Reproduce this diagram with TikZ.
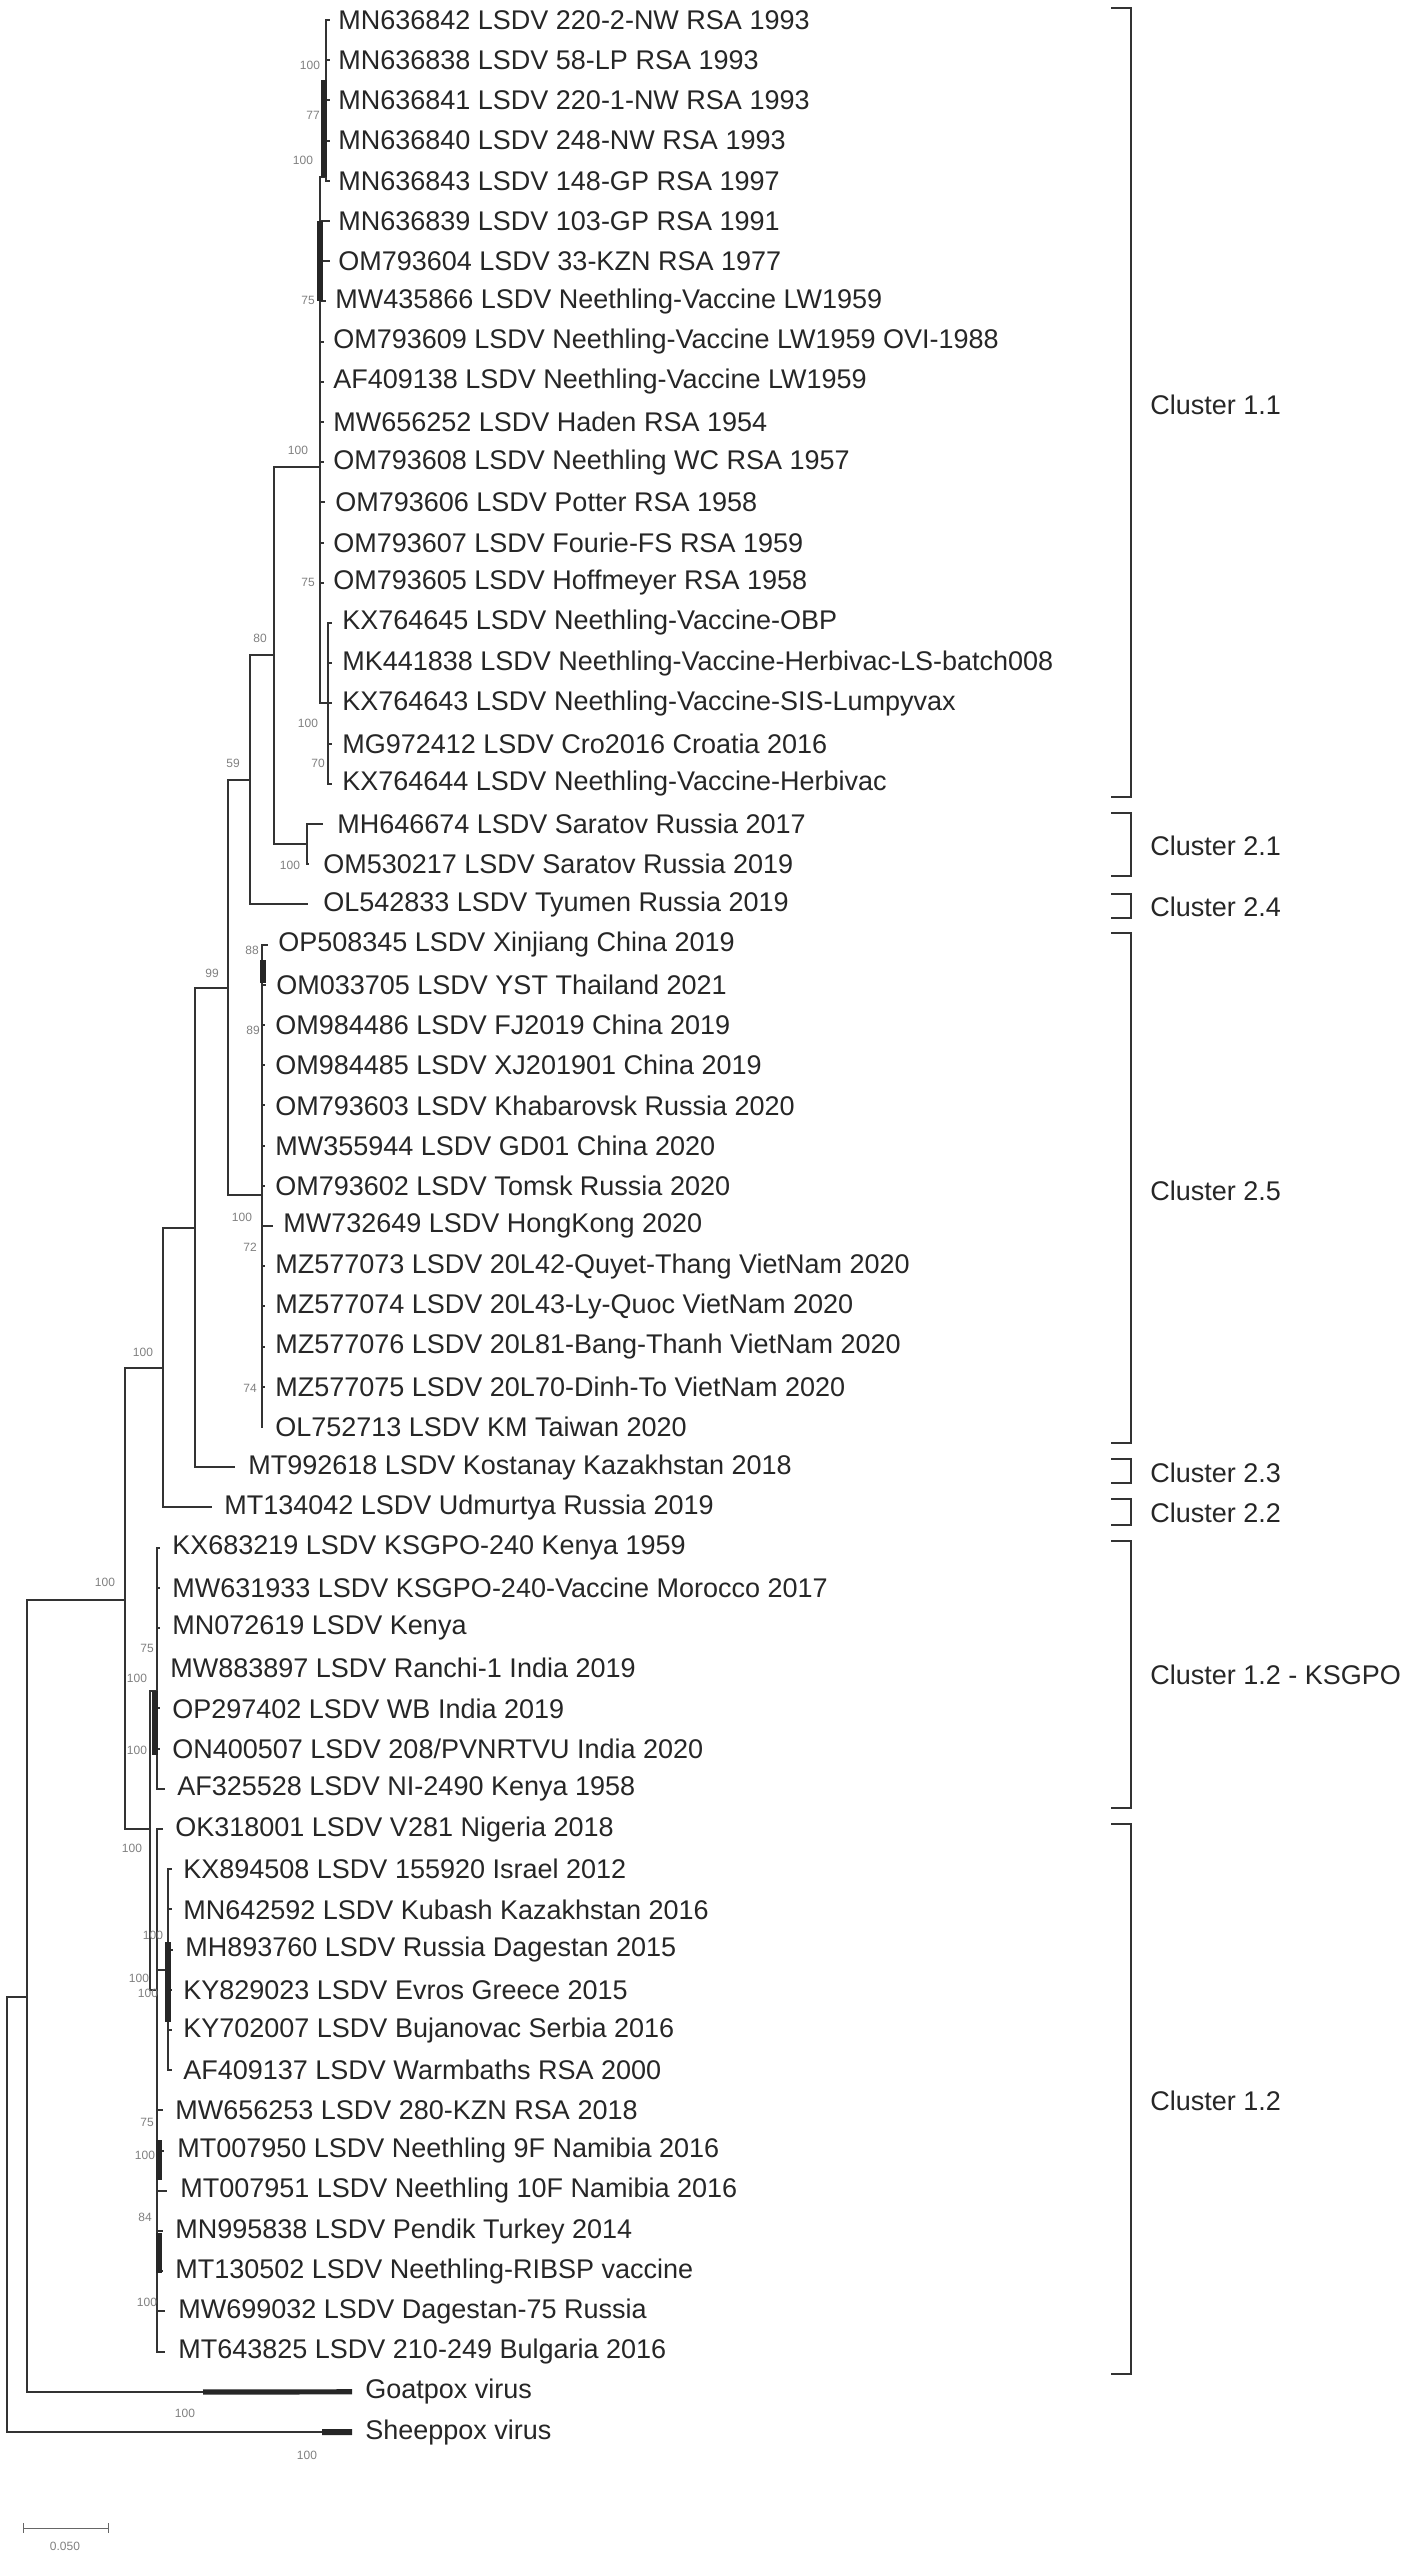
\documentclass[tikz,border=0pt]{standalone}
\usepackage{fontspec}
\setmainfont{Liberation Sans}
\begin{document}
\begin{tikzpicture}[x=0.5pt,y=-0.5pt,
  br/.style={line width=1pt, draw=black!80},
  thk/.style={line width=2.6pt, draw=black!85},
  leaf/.style={anchor=west, inner sep=0pt, font=\fontsize{13.5}{16}\selectfont, text=black!85},
  bs/.style={inner sep=0pt, font=\fontsize{6}{7}\selectfont, text=black!50},
  clab/.style={anchor=west, inner sep=0pt, font=\fontsize{13.5}{16}\selectfont, text=black!85},
  bracket/.style={line width=1.1pt, draw=black!80}]
\useasboundingbox (0,0) rectangle (1417,2557);

% ---------- leaves ----------
\foreach \r/\tx/\lx/\t in {
 1/330/338/{MN636842 LSDV 220-2-NW RSA 1993},
 2/330/338/{MN636838 LSDV 58-LP RSA 1993},
 3/330/338/{MN636841 LSDV 220-1-NW RSA 1993},
 4/330/338/{MN636840 LSDV 248-NW RSA 1993},
 5/330/338/{MN636843 LSDV 148-GP RSA 1997},
 6/330/338/{MN636839 LSDV 103-GP RSA 1991},
 7/330/338/{OM793604 LSDV 33-KZN RSA 1977},
 8/326/335/{MW435866 LSDV Neethling-Vaccine LW1959},
 9/324/333/{OM793609 LSDV Neethling-Vaccine LW1959 OVI-1988},
 10/324/333/{AF409138 LSDV Neethling-Vaccine LW1959},
 11/324/333/{MW656252 LSDV Haden RSA 1954},
 12/324/333/{OM793608 LSDV Neethling WC RSA 1957},
 13/325/335/{OM793606 LSDV Potter RSA 1958},
 14/324/333/{OM793607 LSDV Fourie-FS RSA 1959},
 15/324/333/{OM793605 LSDV Hoffmeyer RSA 1958},
 16/332/342/{KX764645 LSDV Neethling-Vaccine-OBP},
 17/332/342/{MK441838 LSDV Neethling-Vaccine-Herbivac-LS-batch008},
 18/332/342/{KX764643 LSDV Neethling-Vaccine-SIS-Lumpyvax},
 19/332/342/{MG972412 LSDV Cro2016 Croatia 2016},
 20/332/342/{KX764644 LSDV Neethling-Vaccine-Herbivac},
 21/323/337/{MH646674 LSDV Saratov Russia 2017},
 22/309/323/{OM530217 LSDV Saratov Russia 2019},
 23/308/323/{OL542833 LSDV Tyumen Russia 2019},
 24/268/278/{OP508345 LSDV Xinjiang China 2019},
 25/266/276/{OM033705 LSDV YST Thailand 2021},
 26/265/275/{OM984486 LSDV FJ2019 China 2019},
 27/265/275/{OM984485 LSDV XJ201901 China 2019},
 28/265/275/{OM793603 LSDV Khabarovsk Russia 2020},
 29/265/275/{MW355944 LSDV GD01 China 2020},
 30/265/275/{OM793602 LSDV Tomsk Russia 2020},
 31/273/283/{MW732649 LSDV HongKong 2020},
 32/265/275/{MZ577073 LSDV 20L42-Quyet-Thang VietNam 2020},
 33/265/275/{MZ577074 LSDV 20L43-Ly-Quoc VietNam 2020},
 34/265/275/{MZ577076 LSDV 20L81-Bang-Thanh VietNam 2020},
 35/265/275/{MZ577075 LSDV 20L70-Dinh-To VietNam 2020},
 36/263/275/{OL752713 LSDV KM Taiwan 2020},
 37/235/248/{MT992618 LSDV Kostanay Kazakhstan 2018},
 38/212/224/{MT134042 LSDV Udmurtya Russia 2019},
 39/160/172/{KX683219 LSDV KSGPO-240 Kenya 1959},
 40/160/172/{MW631933 LSDV KSGPO-240-Vaccine Morocco 2017},
 41/160/172/{MN072619 LSDV Kenya},
 42/158/170/{MW883897 LSDV Ranchi-1 India 2019},
 43/160/172/{OP297402 LSDV WB India 2019},
 44/160/172/{ON400507 LSDV 208/PVNRTVU India 2020},
 45/165/177/{AF325528 LSDV NI-2490 Kenya 1958},
 46/163/175/{OK318001 LSDV V281 Nigeria 2018},
 47/172/183/{KX894508 LSDV 155920 Israel 2012},
 48/172/183/{MN642592 LSDV Kubash Kazakhstan 2016},
 49/173/185/{MH893760 LSDV Russia Dagestan 2015},
 50/172/183/{KY829023 LSDV Evros Greece 2015},
 51/172/183/{KY702007 LSDV Bujanovac Serbia 2016},
 52/172/183/{AF409137 LSDV Warmbaths RSA 2000},
 53/163/175/{MW656253 LSDV 280-KZN RSA 2018},
 54/164/177/{MT007950 LSDV Neethling 9F Namibia 2016},
 55/167/180/{MT007951 LSDV Neethling 10F Namibia 2016},
 56/163/175/{MN995838 LSDV Pendik Turkey 2014},
 57/163/175/{MT130502 LSDV Neethling-RIBSP vaccine},
 58/165/178/{MW699032 LSDV Dagestan-75 Russia},
 59/165/178/{MT643825 LSDV 210-249 Bulgaria 2016},
 60/352/365/{Goatpox virus},
 61/352/365/{Sheeppox virus}} {
  \coordinate (t\r) at (\tx,{20+(\r-1)*40.2});
  \node[leaf] (l\r) at (\lx,{20+(\r-1)*40.2}) {\t};
}

% ---------- internal nodes ----------
\coordinate (root) at (7,2212);
\coordinate (nA) at (27,1997);
\coordinate (nB) at (125,1600);
\coordinate (nC) at (163,1368);
\coordinate (nD) at (195,1228);
\coordinate (nE) at (228,988);
\coordinate (nF) at (250,780);
\coordinate (nG) at (274,655);
\coordinate (nH) at (320,467);
\coordinate (nI) at (307,844);
\coordinate (nJ) at (262,1195);
\coordinate (nK) at (150,1829);
\coordinate (nL) at (157,1691);
\coordinate (nM) at (157,1990);
\coordinate (nN) at (168,1970);
\coordinate (nP) at (326,177);
\coordinate (nQ) at (328,703);

% ---------- branches ----------
\draw[br] (root) |- (nA);
\draw[br] (root) |- (t61);
\draw[br] (nA) |- (nB);
\draw[br] (nA) |- (t60);
\draw[br] (nB) |- (nC);
\draw[br] (nB) |- (nK);
\draw[br] (nC) |- (nD);
\draw[br] (nC) |- (t38);
\draw[br] (nD) |- (nE);
\draw[br] (nD) |- (t37);
\draw[br] (nE) |- (nF);
\draw[br] (nE) |- (nJ);
\draw[br] (nF) |- (nG);
\draw[br] (nF) |- (t23);
\draw[br] (nG) |- (nH);
\draw[br] (nG) |- (nI);
\draw[br] (nI) |- (t21);
\draw[br] (nI) |- (t22);
\draw[br] (nH) |- (nP);
\draw[br] (nH) |- (nQ);
\foreach \r in {6,...,15} {\draw[br] (nH) |- (t\r);}
\foreach \r in {1,...,5} {\draw[br] (nP) |- (t\r);}
\foreach \r in {16,...,20} {\draw[br] (nQ) |- (t\r);}
\foreach \r in {24,...,36} {\draw[br] (nJ) |- (t\r);}
\draw[br] (nK) |- (nL);
\draw[br] (nK) |- (nM);
\foreach \r in {39,...,45} {\draw[br] (nL) |- (t\r);}
\draw[br] (nM) |- (t46);
\draw[br] (nM) |- (nN);
\foreach \r in {53,...,59} {\draw[br] (nM) |- (t\r);}
\foreach \r in {47,...,52} {\draw[br] (nN) |- (t\r);}

% thick (near-zero-length) segments
\draw[thk] (324,80) -- (324,177);
\draw[thk] (nH |- t6) -- (nH |- t8);
\draw[thk] (263,960) -- (263,983);
\draw[thk] (155,1691) -- (155,1755);
\draw[thk] (168,1942) -- (168,2022);
\draw[thk] (159,2140) -- (159,2180);
\draw[thk] (159,2233) -- (159,2273);
\draw[line width=2.6pt, black!85] (203,2392) -- (t60);
\draw[line width=3pt, black!85] (322,2432) -- (t61);

% ---------- bootstrap values ----------
\foreach \x/\y/\v [count=\k] in {
 310/65/100, 313/115/77, 303/160/100, 308/300/75, 298/450/100, 308/582/75,
 260/638/80, 308/723/100, 318/763/70, 233/763/59, 290/865/100, 212/973/99,
 252/950/88, 253/1030/89, 242/1217/100, 250/1247/72, 250/1388/74,
 143/1352/100, 105/1582/100, 147/1648/75, 137/1678/100, 137/1750/100,
 132/1848/100, 153/1935/100, 139/1978/100, 148/1993/100, 147/2122/75,
 145/2155/100, 145/2217/84, 147/2302/100, 185/2413/100, 307/2455/100} {
  \node[bs] (bs\k) at (\x,\y) {\v};
}

% ---------- cluster brackets ----------
\foreach \a/\b/\m/\t [count=\k] in {
 8/797/405/{Cluster 1.1},
 813/876/846/{Cluster 2.1},
 894/918/907/{Cluster 2.4},
 933/1443/1191/{Cluster 2.5},
 1459/1483/1473/{Cluster 2.3},
 1499/1525/1513/{Cluster 2.2},
 1541/1808/1675/{Cluster 1.2 - KSGPO},
 1824/2374/2101/{Cluster 1.2}} {
  \draw[bracket] (1111,\a) -- (1131,\a) -- (1131,\b) -- (1111,\b);
  \node[clab] (cl\k) at (1150,\m) {\t};
}

% ---------- scale bar ----------
\coordinate (sb1) at (23,2528);
\coordinate (sb2) at (108,2528);
\draw[line width=0.5pt, black!60] (sb1) -- (sb2);
\draw[line width=0.5pt, black!60] ([yshift=2.5pt]sb1) -- ([yshift=-2.5pt]sb1);
\draw[line width=0.5pt, black!60] ([yshift=2.5pt]sb2) -- ([yshift=-2.5pt]sb2);
\node[bs] (sblab) at (65,2546) {0.050};
\end{tikzpicture}
\end{document}
